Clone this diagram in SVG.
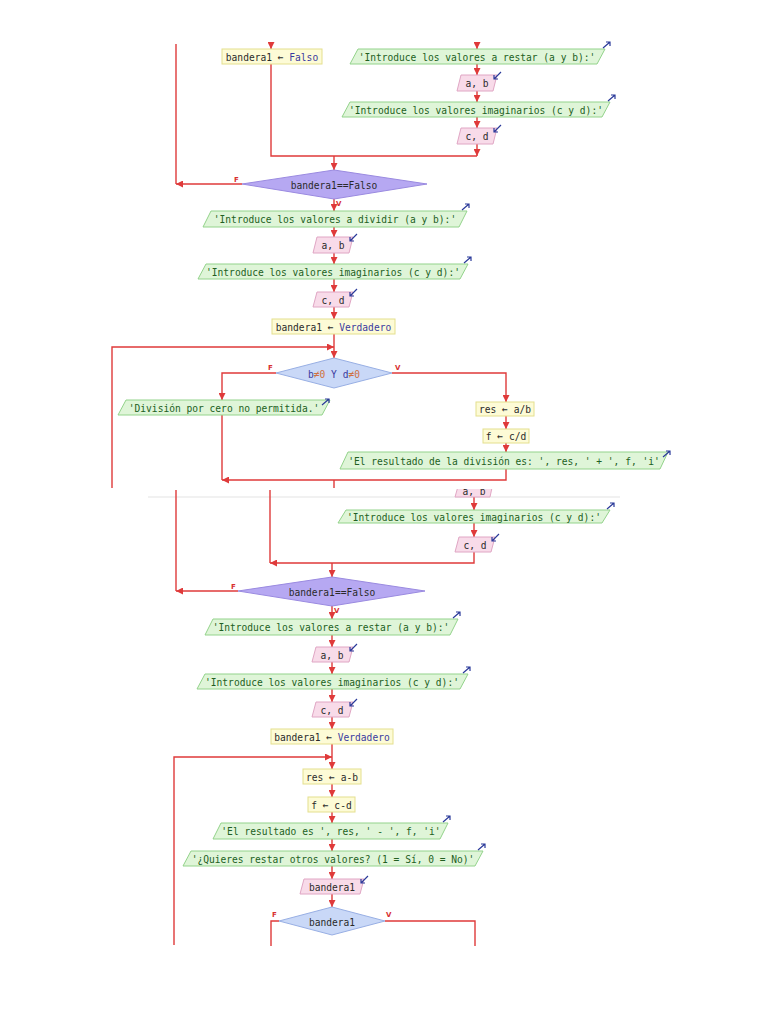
<svg xmlns="http://www.w3.org/2000/svg" width="768" height="1024" viewBox="0 0 768 1024">
<defs>
<style>
.t{font-family:"DejaVu Sans Mono","Liberation Mono",monospace;font-size:9.6px;text-anchor:middle;dominant-baseline:central;transform-box:fill-box;transform-origin:center;transform:scaleY(1.15)}
.g{fill:#dff5d8;stroke:#93d38b;stroke-width:1}
.gt{fill:#225f22}
.y{fill:#fdfbd6;stroke:#e4df8e;stroke-width:1}
.yt{fill:#2a2a2a}
.p{fill:#f8dbe9;stroke:#e0a6c4;stroke-width:1}
.pt{fill:#2a2a2a}
.pd{fill:#b6a8f2;stroke:#9a8ae0;stroke-width:1}
.bd{fill:#c9d8f7;stroke:#98afe4;stroke-width:1}
.v{fill:#3a3aa0}
.c{fill:none;stroke:#df3a3a;stroke-width:1.4}
.lb{font-family:"DejaVu Sans","Liberation Sans",sans-serif;font-size:7px;fill:#d83030;font-weight:bold}
.ic{fill:none;stroke:#2b3a9a;stroke-width:1.2}
</style>
<marker id="a" viewBox="0 0 6 6" refX="6" refY="3" markerWidth="5" markerHeight="5" orient="auto"><path d="M0,0L6,3L0,6z" fill="#df3a3a"/></marker>
<clipPath id="cut"><rect x="0" y="489" width="768" height="9"/></clipPath>
</defs>
<rect width="768" height="1024" fill="#fff"/>
<line x1="148" y1="497" x2="620" y2="497" stroke="#ececec" stroke-width="1.5"/>

<g id="connectors">
<path class="c" d="M176,44V184"/>
<path class="c" d="M242,184H176" marker-end="url(#a)"/>
<path class="c" d="M271,43V49" marker-end="url(#a)"/>
<path class="c" d="M477,43V49" marker-end="url(#a)"/>
<path class="c" d="M477,64V75" marker-end="url(#a)"/>
<path class="c" d="M477,91V102" marker-end="url(#a)"/>
<path class="c" d="M477,117V128" marker-end="url(#a)"/>
<path class="c" d="M477,144V156" marker-end="url(#a)"/>
<path class="c" d="M271,64V156H477"/>
<path class="c" d="M334,156V170" marker-end="url(#a)"/>
<path class="c" d="M334,199V211" marker-end="url(#a)"/>
<path class="c" d="M334,227V237" marker-end="url(#a)"/>
<path class="c" d="M334,253V264" marker-end="url(#a)"/>
<path class="c" d="M334,279V292" marker-end="url(#a)"/>
<path class="c" d="M334,307V319" marker-end="url(#a)"/>
<path class="c" d="M334,334V358" marker-end="url(#a)"/>
<path class="c" d="M112,488V347H334" marker-end="url(#a)"/>
<path class="c" d="M276,373H222V400" marker-end="url(#a)"/>
<path class="c" d="M392,373H506V402" marker-end="url(#a)"/>
<path class="c" d="M506,416V429" marker-end="url(#a)"/>
<path class="c" d="M506,443V452" marker-end="url(#a)"/>
<path class="c" d="M222,415V480"/>
<path class="c" d="M506,469V480H222" marker-end="url(#a)"/>
<path class="c" d="M334,480V488"/>

<path class="c" d="M176,490V591"/>
<path class="c" d="M238,591H176" marker-end="url(#a)"/>
<path class="c" d="M474,497V510" marker-end="url(#a)"/>
<path class="c" d="M474,523V537" marker-end="url(#a)"/>
<path class="c" d="M270,490V563"/>
<path class="c" d="M474,552V563H270" marker-end="url(#a)"/>
<path class="c" d="M332,563V577" marker-end="url(#a)"/>
<path class="c" d="M332,606V619" marker-end="url(#a)"/>
<path class="c" d="M332,635V647" marker-end="url(#a)"/>
<path class="c" d="M332,662V674" marker-end="url(#a)"/>
<path class="c" d="M332,689V702" marker-end="url(#a)"/>
<path class="c" d="M332,717V729" marker-end="url(#a)"/>
<path class="c" d="M332,744V769" marker-end="url(#a)"/>
<path class="c" d="M174,945V757H332" marker-end="url(#a)"/>
<path class="c" d="M332,784V797" marker-end="url(#a)"/>
<path class="c" d="M332,812V823" marker-end="url(#a)"/>
<path class="c" d="M332,839V851" marker-end="url(#a)"/>
<path class="c" d="M332,866V879" marker-end="url(#a)"/>
<path class="c" d="M332,894V907" marker-end="url(#a)"/>
<path class="c" d="M279,921H271V946"/>
<path class="c" d="M385,921H475V946"/>
</g>

<g id="labels">
<text class="lb" x="234" y="182">F</text>
<text class="lb" x="336" y="206">V</text>
<text class="lb" x="268" y="370">F</text>
<text class="lb" x="395" y="370">V</text>
<text class="lb" x="231" y="589">F</text>
<text class="lb" x="334" y="613">V</text>
<text class="lb" x="272" y="917">F</text>
<text class="lb" x="386" y="917">V</text>
</g>

<g id="n1"><rect class="y" x="222" y="49" width="100" height="15"/><text class="t yt" x="272" y="56.5">bandera1 ← <tspan class="v">Falso</tspan></text></g>
<g id="n2"><polygon class="g" points="358,49 605,49 597,64 350,64"/><text class="t gt" x="477" y="56.5">'Introduce los valores a restar (a y b):'</text><path class="ic" d="M603,48L610,42M606,42H610V46"/></g>
<g id="n3"><polygon class="p" points="461,75 497,75 493,91 457,91"/><text class="t pt" x="477" y="83">a, b</text><path class="ic" d="M501,72L494,79M494,75V79H498"/></g>
<g id="n4"><polygon class="g" points="350,102 610,102 602,117 342,117"/><text class="t gt" x="476" y="109.5">'Introduce los valores imaginarios (c y d):'</text><path class="ic" d="M608,101L615,95M611,95H615V99"/></g>
<g id="n5"><polygon class="p" points="461,128 497,128 493,144 457,144"/><text class="t pt" x="477" y="136">c, d</text><path class="ic" d="M501,125L494,132M494,128V132H498"/></g>
<g id="n6"><polygon class="pd" points="334,170 427,184 334,199 242,184"/><text class="t yt" x="334" y="184.5">bandera1==Falso</text></g>
<g id="n7"><polygon class="g" points="211,211 467,211 459,227 203,227"/><text class="t gt" x="335" y="219">'Introduce los valores a dividir (a y b):'</text><path class="ic" d="M462,210L469,204M465,204H469V208"/></g>
<g id="n8"><polygon class="p" points="317,237 353,237 349,253 313,253"/><text class="t pt" x="333" y="245">a, b</text><path class="ic" d="M357,234L350,241M350,237V241H354"/></g>
<g id="n9"><polygon class="g" points="206,264 468,264 460,279 198,279"/><text class="t gt" x="333" y="271.5">'Introduce los valores imaginarios (c y d):'</text><path class="ic" d="M464,263L471,257M467,257H471V261"/></g>
<g id="n10"><polygon class="p" points="317,292 353,292 349,307 313,307"/><text class="t pt" x="333" y="299.5">c, d</text><path class="ic" d="M357,289L350,296M350,292V296H354"/></g>
<g id="n11"><rect class="y" x="272" y="319" width="123" height="15"/><text class="t yt" x="333.5" y="326.5">bandera1 ← <tspan class="v">Verdadero</tspan></text></g>
<g id="n12"><polygon class="bd" points="334,358 392,373 334,388 276,373"/><text class="t" x="334" y="373.5"><tspan fill="#3a3aa0">b</tspan><tspan fill="#d07040">≠0</tspan><tspan fill="#3a3aa0"> Y d</tspan><tspan fill="#d07040">≠0</tspan></text></g>
<g id="n13"><polygon class="g" points="126,400 330,400 322,415 118,415"/><text class="t gt" x="224" y="407.5">'División por cero no permitida.'</text><path class="ic" d="M322,405L329,399M325,399H329V403"/></g>
<g id="n14"><rect class="y" x="476" y="402" width="58" height="14"/><text class="t yt" x="505" y="409">res ← a/b</text></g>
<g id="n15"><rect class="y" x="483" y="429" width="46" height="14"/><text class="t yt" x="506" y="436">f ← c/d</text></g>
<g id="n16"><polygon class="g" points="348,452 668,452 660,469 340,469"/><text class="t gt" x="504" y="460.5">'El resultado de la división es: ', res, ' + ', f, 'i'</text><path class="ic" d="M663,457L670,451M666,451H670V455"/></g>

<g id="n17" clip-path="url(#cut)"><polygon class="p" points="459,483 493,483 490,497 455,497"/><text class="t pt" x="474" y="491">a, b</text></g>
<g id="n18"><polygon class="g" points="346,510 610,510 602,523 338,523"/><text class="t gt" x="474" y="516.5">'Introduce los valores imaginarios (c y d):'</text><path class="ic" d="M607,509L614,503M610,503H614V507"/></g>
<g id="n19"><polygon class="p" points="459,537 495,537 491,552 455,552"/><text class="t pt" x="475" y="544.5">c, d</text><path class="ic" d="M499,534L492,541M492,537V541H496"/></g>
<g id="n20"><polygon class="pd" points="332,577 425,591 332,606 238,591"/><text class="t yt" x="332" y="591.5">bandera1==Falso</text></g>
<g id="n21"><polygon class="g" points="213,619 458,619 450,635 205,635"/><text class="t gt" x="331" y="627">'Introduce los valores a restar (a y b):'</text><path class="ic" d="M453,618L460,612M456,612H460V616"/></g>
<g id="n22"><polygon class="p" points="316,647 353,647 349,662 312,662"/><text class="t pt" x="332" y="654.5">a, b</text><path class="ic" d="M357,644L350,651M350,647V651H354"/></g>
<g id="n23"><polygon class="g" points="205,674 468,674 460,689 197,689"/><text class="t gt" x="332" y="681.5">'Introduce los valores imaginarios (c y d):'</text><path class="ic" d="M463,673L470,667M466,667H470V671"/></g>
<g id="n24"><polygon class="p" points="316,702 353,702 349,717 312,717"/><text class="t pt" x="332" y="709.5">c, d</text><path class="ic" d="M357,699L350,706M350,702V706H354"/></g>
<g id="n25"><rect class="y" x="271" y="729" width="122" height="15"/><text class="t yt" x="332" y="736.5">bandera1 ← <tspan class="v">Verdadero</tspan></text></g>
<g id="n26"><rect class="y" x="303" y="769" width="58" height="15"/><text class="t yt" x="332" y="776.5">res ← a-b</text></g>
<g id="n27"><rect class="y" x="308" y="797" width="47" height="15"/><text class="t yt" x="331.5" y="804.5">f ← c-d</text></g>
<g id="n28"><polygon class="g" points="221,823 448,823 440,839 213,839"/><text class="t gt" x="331" y="831">'El resultado es ', res, ' - ', f, 'i'</text><path class="ic" d="M443,822L450,816M446,816H450V820"/></g>
<g id="n29"><polygon class="g" points="191,851 483,851 475,866 183,866"/><text class="t gt" x="333" y="858.5">'¿Quieres restar otros valores? (1 = Sí, 0 = No)'</text><path class="ic" d="M478,850L485,844M481,844H485V848"/></g>
<g id="n30"><polygon class="p" points="304,879 364,879 360,894 300,894"/><text class="t pt" x="332" y="886.5">bandera1</text><path class="ic" d="M368,876L361,883M361,879V883H365"/></g>
<g id="n31"><polygon class="bd" points="332,907 385,921 332,935 279,921"/><text class="t yt" x="332" y="921.5">bandera1</text></g>
</svg>
